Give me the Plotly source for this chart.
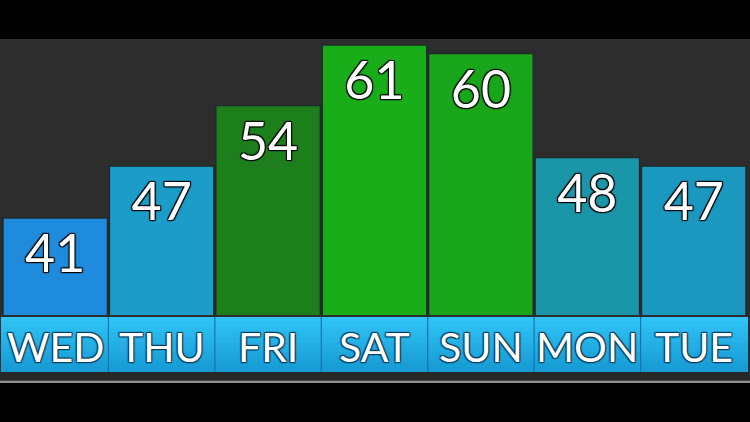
import plotly.graph_objects as go

days = ["WED", "THU", "FRI", "SAT", "SUN", "MON", "TUE"]
highs = [41, 47, 54, 61, 60, 48, 47]
bar_colors = ["#1f8bdd", "#1b9cc9", "#1d7f1c", "#19ad19", "#1aa61a", "#1b95a8", "#1b98bf"]

W, H = 750, 422
ML, MR, MT, MB = 2, 3, 39, 107
PW = W - ML - MR
PH = H - MT - MB


def py(pix):
    """pixel y -> paper y"""
    return (H - MB - pix) / PH


def px(pix):
    return (pix - ML) / PW


fig = go.Figure()
fig.add_trace(go.Bar(
    x=days, y=highs,
    marker=dict(color=bar_colors, line=dict(color="#1e2a2a", width=1.2)),
    text=[str(v) for v in highs],
    textposition="inside", insidetextanchor="end", textangle=0,
    constraintext="none",
    insidetextfont=dict(family="Lato", size=52, color="white",
                        shadow="1px 1px 1px #000, -1px -1px 1px #000, 1px -1px 1px #000, -1px 1px 1px #000"),
    cliponaxis=True,
    hoverinfo="skip",
))

shapes = []
# dark panel
shapes.append(dict(type="rect", xref="paper", yref="paper", x0=px(0), x1=px(750),
                   y0=py(380), y1=py(39), fillcolor="#2d2d2d", line_width=0, layer="below"))
# label band gradient strips
top_c = (0x30, 0xc3, 0xf6)
bot_c = (0x17, 0x9c, 0xd4)
n = 11
y_top, y_bot = 317, 372
for i in range(n):
    t = i / (n - 1)
    c = tuple(int(top_c[k] + (bot_c[k] - top_c[k]) * t) for k in range(3))
    a = y_top + (y_bot - y_top) * i / n
    b = y_top + (y_bot - y_top) * (i + 1) / n
    shapes.append(dict(type="rect", xref="paper", yref="paper", x0=px(1), x1=px(748),
                       y0=py(b + 0.5), y1=py(a), fillcolor="rgb(%d,%d,%d)" % c,
                       line_width=0, layer="below"))
# dividers in band
for i in range(len(days) - 1):
    shapes.append(dict(type="line", xref="x", yref="paper", x0=i + 0.5, x1=i + 0.5,
                       y0=py(372), y1=py(317), line=dict(color="#1476a8", width=1.2)))
# bottom dark strip and light line
shapes.append(dict(type="rect", xref="paper", yref="paper", x0=px(0), x1=px(750),
                   y0=py(380), y1=py(372), fillcolor="#272727", line_width=0))
shapes.append(dict(type="rect", xref="paper", yref="paper", x0=px(0), x1=px(750),
                   y0=py(383), y1=py(380.5), fillcolor="#8f8f8f", line_width=0))

annotations = []
for d in days:
    annotations.append(dict(x=d, xref="x", y=py(346), yref="paper", text=d,
                            showarrow=False, xanchor="center", yanchor="middle",
                            font=dict(family="Lato", size=41, color="white",
                                      shadow="1px 1px 1px #0a3a5a, -1px -1px 1px #0a3a5a, 1px -1px 1px #0a3a5a, -1px 1px 1px #0a3a5a")))

fig.update_layout(
    width=W, height=H,
    margin=dict(l=ML, r=MR, t=MT, b=MB, pad=0),
    paper_bgcolor="#000000", plot_bgcolor="rgba(0,0,0,0)",
    bargap=0.02, showlegend=False,
    xaxis=dict(showticklabels=False, showgrid=False, zeroline=False, showline=False,
               ticks="", range=[-0.5, 6.5], fixedrange=True),
    yaxis=dict(visible=False, range=[29.8, 61.7], showgrid=False, zeroline=False,
               fixedrange=True),
    shapes=shapes, annotations=annotations,
)

fig.write_html("out.html", config={"displayModeBar": False},
               post_script="document.body.style.margin='0';document.body.style.background='#000';")
